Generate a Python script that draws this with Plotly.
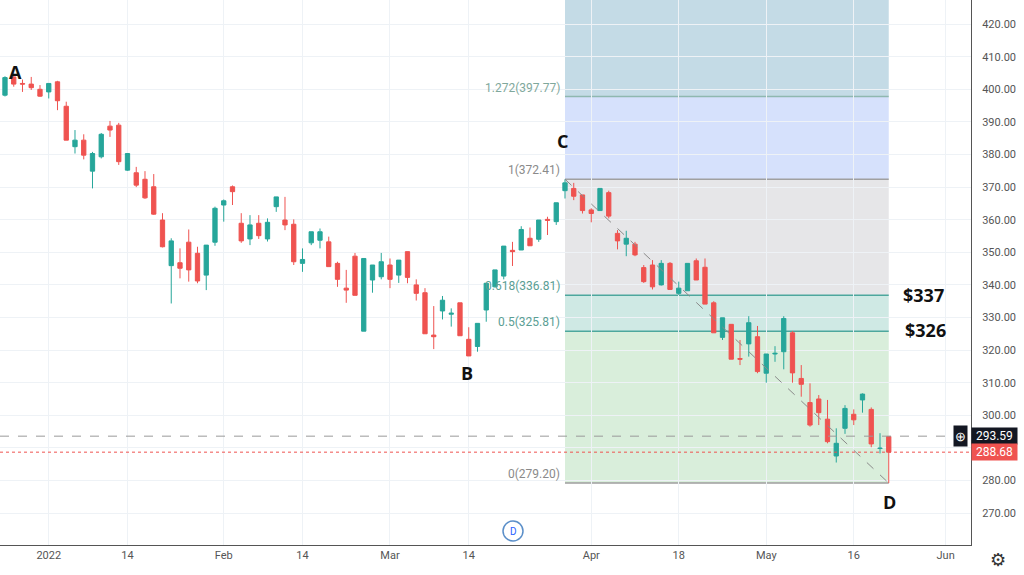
import plotly.graph_objects as go

# daily candles, Dec 27 2021 .. May 20 2022 (trading-day index)
opens = [398.2, 403.8, 401.8, 401.6, 400.0, 399.2, 402.3, 394.8, 382.4, 384.4,
         374.9, 379.3, 388.7, 389.0, 375.2, 374.4, 372.4, 370.1, 359.9, 345.9,
         346.8, 353.1, 349.7, 343.0, 353.1, 364.5, 370.1, 358.9, 354.1, 358.9,
         354.1, 364.0, 359.9, 358.6, 346.6, 352.9, 353.7, 353.2, 346.6, 339.0,
         348.8, 325.8, 341.5, 342.5, 346.1, 343.0, 350.2, 340.0, 337.6, 324.6,
         332.0, 331.0, 334.5, 323.3, 321.1, 332.3, 339.4, 342.7, 350.6, 350.7,
         354.3, 354.0, 360.1, 359.4, 368.9, 369.6, 367.6, 363.0, 362.8, 368.3,
         355.8, 352.5, 352.5, 345.3, 346.1, 340.0, 346.6, 337.4, 338.2, 347.4,
         345.4, 334.5, 323.9, 327.9, 317.4, 321.9, 324.1, 312.9, 318.8, 319.5,
         325.3, 311.3, 303.9, 305.0, 298.8, 287.5, 296.0, 300.3, 304.7, 301.8,
         289.8, 293.5]
highs = [404.0, 404.4, 403.0, 403.8, 401.3, 401.8, 402.6, 396.2, 387.5, 386.2,
         380.8, 386.6, 390.3, 389.7, 380.3, 376.2, 374.9, 374.0, 362.0, 354.3,
         351.2, 357.0, 351.7, 352.2, 364.0, 366.2, 370.5, 362.0, 361.4, 361.4,
         360.4, 367.0, 367.0, 360.1, 351.2, 356.3, 357.3, 354.8, 347.1, 344.6,
         349.8, 348.1, 346.1, 349.8, 348.1, 347.6, 350.2, 341.7, 339.0, 333.5,
         336.6, 332.8, 334.5, 327.0, 328.2, 340.5, 344.6, 351.9, 353.2, 358.0,
         357.6, 359.9, 360.9, 365.2, 372.4, 371.3, 367.6, 363.5, 369.6, 368.9,
         356.8, 356.6, 353.2, 346.1, 347.6, 347.6, 347.0, 341.0, 346.6, 348.1,
         348.1, 335.0, 329.9, 327.9, 323.1, 330.4, 327.4, 318.8, 321.2, 330.4,
         325.8, 315.4, 309.8, 306.2, 304.7, 296.0, 303.1, 301.8, 306.7, 302.4,
         294.5, 293.6]
lows = [397.8, 400.8, 399.2, 399.8, 397.7, 397.2, 393.6, 384.4, 380.3, 378.5,
        369.6, 378.8, 385.4, 376.8, 375.0, 370.0, 366.4, 361.5, 351.5, 334.3,
        342.0, 341.0, 340.5, 338.4, 352.0, 359.4, 364.5, 352.9, 352.2, 354.1,
        353.3, 362.4, 356.8, 346.1, 344.0, 352.2, 351.2, 345.6, 339.4, 334.5,
        336.8, 325.8, 337.6, 341.7, 339.0, 340.6, 340.5, 335.2, 325.0, 320.3,
        329.4, 327.2, 324.4, 318.2, 319.5, 328.7, 339.2, 341.7, 345.8, 350.7,
        352.0, 353.2, 355.3, 358.4, 366.5, 366.0, 361.9, 359.2, 362.8, 360.4,
        350.9, 348.8, 348.8, 340.6, 338.6, 339.8, 338.6, 336.9, 338.2, 341.5,
        334.1, 325.3, 323.1, 317.2, 315.4, 318.0, 312.9, 310.0, 316.4, 314.1,
        310.0, 305.7, 296.5, 297.0, 291.4, 285.5, 294.3, 297.0, 300.8, 290.2,
        288.3, 279.2]
closes = [403.6, 401.6, 401.6, 400.5, 397.9, 401.8, 396.5, 384.4, 384.4, 379.8,
          380.3, 386.2, 387.5, 377.8, 380.3, 370.6, 366.7, 361.7, 351.7, 353.5,
          345.1, 344.6, 341.2, 352.2, 363.5, 365.8, 368.6, 353.5, 358.4, 355.1,
          359.2, 367.0, 358.4, 347.1, 347.8, 356.3, 356.3, 345.6, 341.7, 338.4,
          336.8, 348.1, 346.1, 347.1, 341.7, 347.6, 342.3, 337.4, 325.0, 324.1,
          335.3, 331.3, 324.4, 318.2, 328.2, 340.5, 344.6, 351.9, 350.2, 357.0,
          352.0, 359.9, 359.8, 365.2, 371.3, 367.2, 362.8, 361.9, 369.6, 361.1,
          353.5, 354.3, 349.2, 341.0, 339.4, 346.6, 338.6, 339.0, 346.6, 341.5,
          334.1, 325.3, 329.9, 317.2, 317.2, 328.4, 313.4, 318.8, 319.0, 329.7,
          313.0, 309.5, 297.0, 300.8, 291.9, 291.4, 302.1, 298.6, 306.5, 291.2,
          289.9, 288.68]
idx = list(range(len(closes)))

tick_pos = [5, 14, 25, 34, 44, 53, 67, 77, 87, 97, 107.5]
tick_text = ["2022", "14", "Feb", "14", "Mar", "14", "Apr", "18", "May", "16", "Jun"]

# fibonacci retracement C -> D
fib_start, fib_end = 64, 101
fib_levels = [0, 0.5, 0.618, 1, 1.272]
fib_prices = [279.20, 325.81, 336.81, 372.41, 397.77]
fib_fills = ["#d9eedb", "#cfe9e4", "#e6e6e8", "#d6e1fc", "#c4dbe6"]
fib_lines = ["#9e9e9e", "#4da79d", "#4da79d", "#a0a0a0", "#8fb8b0"]
fib_text_col = ["#8a8a8a", "#5a9e94", "#5a9e94", "#8a8a8a", "#7fa89c"]

last_price = 288.68
cross_price = 293.59

Y0, Y1 = 260.2, 427.4
W, H = 971, 545


def px(x):
    return x / W


def py(y):
    return 1 - y / H


fig = go.Figure()

tops = fib_prices[1:] + [Y1]
for lvl, p, top, fc, lc in zip(fib_levels, fib_prices, tops, fib_fills, fib_lines):
    fig.add_shape(type="rect", x0=fib_start, x1=fib_end, y0=p, y1=top,
                  fillcolor=fc, line_width=0, layer="below")
    fig.add_shape(type="line", x0=fib_start, x1=fib_end, y0=p, y1=p,
                  line=dict(color=lc, width=1.5), layer="below")
for lvl, p, tc in zip(fib_levels, fib_prices, fib_text_col):
    fig.add_annotation(x=fib_start - 0.3, y=p, text=f"{lvl}({p:.2f})",
                       xanchor="right", yanchor="bottom", showarrow=False,
                       font=dict(size=12, color=tc, family="Roboto"))

# C -> D trend line
fig.add_shape(type="line", x0=fib_start, y0=fib_prices[3], x1=fib_end, y1=fib_prices[0],
              line=dict(color="#8a8a8a", width=1, dash="dash"))

# price lines
fig.add_hline(y=cross_price, line=dict(color="#9a9a9a", width=1, dash="dash"))
fig.add_hline(y=last_price, line=dict(color="#ef5350", width=1, dash="dot"))

fig.add_trace(go.Candlestick(
    x=idx, open=opens, high=highs, low=lows, close=closes,
    increasing=dict(line=dict(color="#26a69a", width=1), fillcolor="#26a69a"),
    decreasing=dict(line=dict(color="#ef5350", width=1), fillcolor="#ef5350"),
    whiskerwidth=0, hoverinfo="skip", showlegend=False))

# point labels
big = dict(size=18, color="#111", family="Open Sans")
labels = [("<b>A</b>", 15, 72), ("<b>B</b>", 467, 373), ("<b>C</b>", 562, 141),
          ("<b>D</b>", 889, 502), ("<b>$337</b>", 923, 295), ("<b>$326</b>", 925, 330)]
for t, x, y in labels:
    fig.add_annotation(xref="paper", yref="paper", x=px(x), y=py(y), text=t,
                       xanchor="center", yanchor="middle", showarrow=False, font=big)

# right-axis price tags
tag_font = dict(size=12, color="white", family="Roboto")
fig.add_annotation(xref="paper", yref="y", x=1.0, y=cross_price, xanchor="left",
                   yanchor="middle", text=" 293.59 ", showarrow=False, borderpad=1,
                   bgcolor="#131722", font=tag_font)
fig.add_annotation(xref="paper", yref="y", x=1.0, y=last_price, xanchor="left",
                   yanchor="middle", text=" 288.68 ", showarrow=False, borderpad=1,
                   bgcolor="#ef5350", font=tag_font)
fig.add_annotation(xref="paper", yref="y", x=px(960), y=cross_price,
                   xanchor="center", yanchor="middle", text="⊕", showarrow=False,
                   bgcolor="#131722", font=dict(size=13, color="white"))
# dividends marker
fig.add_shape(type="circle", xref="paper", yref="paper",
              x0=px(503), x1=px(523), y0=py(541), y1=py(521),
              line=dict(color="#5b8fc9", width=1.5), fillcolor="white")
fig.add_annotation(xref="paper", yref="paper", x=px(513), y=py(531), text="D",
                   xanchor="center", yanchor="middle", showarrow=False,
                   font=dict(size=10, color="#2962ff", family="Roboto"))
fig.add_annotation(xref="paper", yref="paper", x=px(998), y=py(559), text="⚙",
                   xanchor="center", yanchor="middle", showarrow=False,
                   font=dict(size=18, color="#333"))

fig.update_layout(
    width=1024, height=575,
    margin=dict(l=0, r=53, t=0, b=30),
    paper_bgcolor="white", plot_bgcolor="white",
    xaxis=dict(range=[-0.57, 110.4], tickvals=tick_pos, ticktext=tick_text,
               rangeslider=dict(visible=False), showgrid=True, gridcolor="#eef2f6",
               zeroline=False, showline=True, linecolor="#555", ticks="",
               tickfont=dict(size=11, color="#555", family="Roboto")),
    yaxis=dict(range=[Y0, Y1], side="right", dtick=10, tick0=270, tickformat=".2f",
               showgrid=True, gridcolor="#eef2f6", zeroline=False, showline=True,
               linecolor="#555", ticks="", ticklabelstandoff=8,
               tickfont=dict(size=11, color="#555", family="Roboto")),
)

fig.write_html("out.html", config={"displayModeBar": False},
               post_script="document.body.style.margin='0';")
